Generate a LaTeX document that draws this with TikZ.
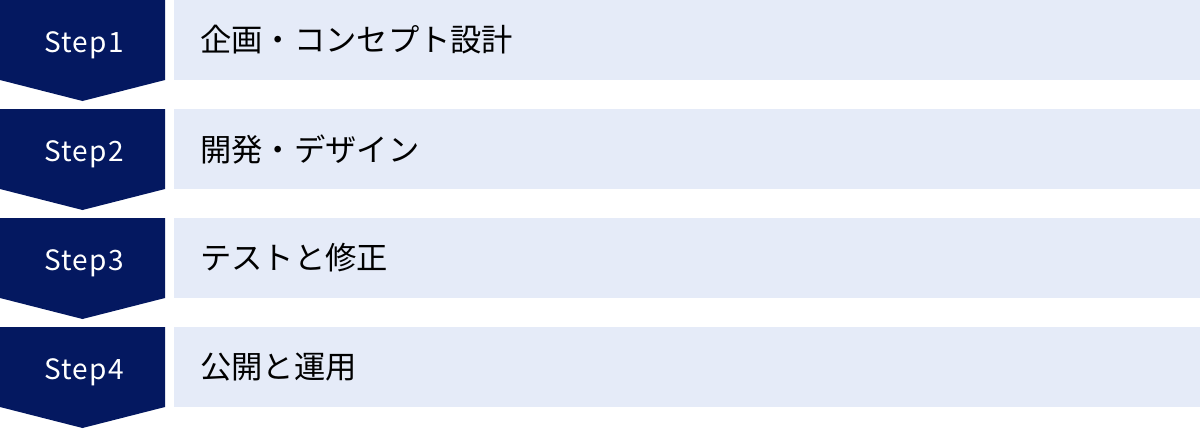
\documentclass[tikz,border=0pt]{standalone}
\usepackage{fontspec}
\setmainfont{Noto Sans CJK JP}
\newfontfamily\stepfont[LetterSpace=4.5]{Noto Sans CJK JP}
\definecolor{navy}{HTML}{041860}
\definecolor{lightbox}{HTML}{E5EBF8}
\tikzset{
  stepshape/.style={fill=navy, draw=none},
  contentbox/.style={fill=lightbox, draw=none, minimum width=1026pt, minimum height=80pt, anchor=north west, inner sep=0pt},
  steplabel/.style={text=white, font=\stepfont\fontsize{28}{34}\selectfont, anchor=base, inner sep=0pt},
  contentlabel/.style={text=black, font=\fontsize{31.3}{36}\selectfont, anchor=west, inner sep=0pt}
}
\begin{document}
\begin{tikzpicture}[x=1pt,y=-1pt]
\useasboundingbox (0,0) rectangle (1200,429);
\foreach \i/\lab/\txt in {0/Step1/企画・コンセプト設計, 1/Step2/開発・デザイン, 2/Step3/テストと修正, 3/Step4/公開と運用}{
  \pgfmathsetmacro{\top}{\i*109}
  \fill[stepshape] (0,\top) -- (165,\top) -- (165,\top+80) -- (82.5,\top+101) -- (0,\top+80) -- cycle;
  \node[contentbox] (box\i) at (174,\top) {};
  \node[steplabel] (step\i) at (84,\top+52) {\lab};
  \node[contentlabel] (text\i) at (200,\top+40) {\txt};
}
\end{tikzpicture}
\end{document}
